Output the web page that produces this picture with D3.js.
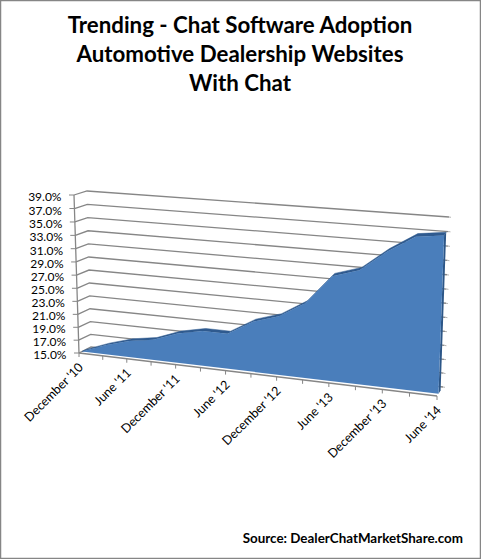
<!DOCTYPE html>
<html>
  <head>
    <meta charset="utf-8" />
    <style>
      html, body { margin: 0; padding: 0; background: #fff; }
      svg { display: block; }
      text { fill: #000; }
      .title { font-family: Lato, sans-serif; font-weight: 700; font-size: 22.3px; }
      .tick { font-family: Lato, sans-serif; font-size: 12px; }
      .xtick { font-family: Lato, sans-serif; font-size: 12.5px; }
      .source { font-family: Lato, sans-serif; font-weight: 700; font-size: 13.4px; }
    </style>
  </head>
  <body>
    <svg></svg>
    <script src="https://d3js.org/d3.v7.min.js"></script>
    <script>
      const width = 481,
        height = 559;

      const titleLines = [
        "Trending - Chat Software Adoption",
        "Automotive Dealership Websites",
        "With Chat",
      ];
      const quarters = [
        "December '10", "March '11", "June '11", "September '11", "December '11",
        "March '12", "June '12", "September '12", "December '12", "March '13",
        "June '13", "September '13", "December '13", "March '14", "June '14",
      ];
      const adoption = [
        15.0, 16.4, 17.5, 18.1, 19.5, 20.3, 20.3, 22.5, 23.7, 26.0, 30.3, 31.5,
        34.5, 36.9, 37.4,
      ];
      const yTicks = [15, 17, 19, 21, 23, 25, 27, 29, 31, 33, 35, 37, 39];
      const source = "Source:  DealerChatMarketShare.com";

      const svg = d3.select("svg").attr("width", width).attr("height", height);

      svg.append("rect")
        .attr("x", 0.5).attr("y", 0.5)
        .attr("width", width - 1).attr("height", height - 1)
        .attr("fill", "#fff")
        .attr("stroke", "#868686")
        .attr("stroke-width", 1.5);

      svg.selectAll("text.title")
        .data(titleLines)
        .enter()
        .append("text")
        .attr("class", "title")
        .attr("x", 240)
        .attr("y", (d, i) => 33 + i * 29)
        .attr("text-anchor", "middle")
        .text((d) => d);

      // maps the unit square onto a quad, so the chart gets the excel 3d perspective
      function quad(bl, br, tr, tl) {
        let dx1 = br[0] - tr[0], dx2 = tl[0] - tr[0], sx = bl[0] - br[0] + tr[0] - tl[0];
        let dy1 = br[1] - tr[1], dy2 = tl[1] - tr[1], sy = bl[1] - br[1] + tr[1] - tl[1];
        let det = dx1 * dy2 - dx2 * dy1;
        let g = (sx * dy2 - dx2 * sy) / det;
        let h = (dx1 * sy - sx * dy1) / det;
        let a = br[0] - bl[0] + g * br[0], b = tl[0] - bl[0] + h * tl[0];
        let d = br[1] - bl[1] + g * br[1], e = tl[1] - bl[1] + h * tl[1];
        return (u, v) => {
          let w = g * u + h * v + 1;
          return [(a * u + b * v + bl[0]) / w, (d * u + e * v + bl[1]) / w];
        };
      }

      const front = quad([79, 353], [437, 396], [443, 226], [74, 195]);
      const back = quad([91, 347], [443, 387], [449, 217], [87, 191]);

      const xScale = d3.scalePoint().domain(quarters).range([0, 1]);
      const yScale = d3.scaleLinear().domain([15, 39]).range([0, 1]);

      // u along time, v up the value axis, depth 0 = front, 1 = back wall
      function project(q, value, depth) {
        let p = front(xScale(q), yScale(value));
        let r = back(xScale(q), yScale(value));
        return [p[0] + (r[0] - p[0]) * depth, p[1] + (r[1] - p[1]) * depth];
      }

      const first = quarters[0],
        last = quarters[quarters.length - 1];
      const line = d3.line();
      const gridColor = "#868686";

      // gridlines: side wall segment then back wall
      svg.append("g")
        .selectAll("path")
        .data(yTicks)
        .enter()
        .append("path")
        .attr("d", (t) =>
          line([project(first, t, 0), project(first, t, 1), project(last, t, 1)])
        )
        .attr("fill", "none")
        .attr("stroke", gridColor)
        .attr("stroke-width", 1.3);

      // small marks on the right edge of the back wall
      svg.append("g")
        .selectAll("line")
        .data(yTicks)
        .enter()
        .append("line")
        .attr("x1", (t) => project(last, t, 1)[0])
        .attr("y1", (t) => project(last, t, 1)[1])
        .attr("x2", (t) => project(last, t, 1)[0] + 2)
        .attr("y2", (t) => project(last, t, 1)[1] + 0.3)
        .attr("stroke", "#b5b5b5");

      // y axis
      svg.append("path")
        .attr("d", line([project(first, 15, 0), project(first, 39, 0)]))
        .attr("stroke", gridColor)
        .attr("stroke-width", 1.3)
        .attr("fill", "none");
      svg.append("g")
        .selectAll("line")
        .data(yTicks)
        .enter()
        .append("line")
        .attr("x1", (t) => project(first, t, 0)[0] - 5)
        .attr("y1", (t) => project(first, t, 0)[1])
        .attr("x2", (t) => project(first, t, 0)[0])
        .attr("y2", (t) => project(first, t, 0)[1])
        .attr("stroke", gridColor);
      svg.append("g")
        .selectAll("text")
        .data(yTicks)
        .enter()
        .append("text")
        .attr("class", "tick")
        .attr("x", (t) => project(first, t, 0)[0] - 12.5)
        .attr("y", (t) => project(first, t, 0)[1] + 6)
        .attr("text-anchor", "end")
        .text((t) => t.toFixed(1) + "%");

      // x axis
      svg.append("path")
        .attr("d", line([project(first, 15, 0), project(last, 15, 0)]))
        .attr("stroke", gridColor)
        .attr("stroke-width", 1.4)
        .attr("fill", "none");
      svg.append("g")
        .selectAll("line")
        .data(quarters)
        .enter()
        .append("line")
        .attr("x1", (q) => project(q, 15, 0)[0])
        .attr("y1", (q) => project(q, 15, 0)[1])
        .attr("x2", (q) => project(q, 15, 0)[0])
        .attr("y2", (q) => project(q, 15, 0)[1] + 4)
        .attr("stroke", gridColor);
      svg.append("g")
        .selectAll("text")
        .data(quarters.filter((q, i) => i % 2 == 0))
        .enter()
        .append("text")
        .attr("class", "xtick")
        .attr("text-anchor", "end")
        .attr("transform", (q) => {
          let p = project(q, 15, 0);
          return "translate(" + (p[0] + 5) + "," + (p[1] + 15) + ") rotate(-45)";
        })
        .text((q) => q);

      // area: top and side faces behind, front face over them
      const dFront = 0.25,
        dBack = 0.6;
      const frontEdge = quarters.map((q, i) => project(q, adoption[i], dFront));
      const backEdge = quarters.map((q, i) => project(q, adoption[i], dBack));

      svg.append("path")
        .attr("d", line(frontEdge.concat(backEdge.slice().reverse())) + "Z")
        .attr("fill", "#2f5a8f")
        .attr("stroke", "#2f5a8f")
        .attr("stroke-width", 0.5);

      svg.append("path")
        .attr(
          "d",
          line([
            project(last, 15, dFront),
            project(last, adoption[adoption.length - 1], dFront),
            project(last, adoption[adoption.length - 1], dBack),
            project(last, 15, dBack),
          ]) + "Z"
        )
        .attr("fill", "#2c5687");

      svg.append("path")
        .attr(
          "d",
          line(
            [project(first, 15, dFront)]
              .concat(frontEdge)
              .concat([project(last, 15, dFront)])
          ) + "Z"
        )
        .attr("fill", "#4a7ebb");

      svg.append("text")
        .attr("class", "source")
        .attr("x", 463)
        .attr("y", 543)
        .attr("text-anchor", "end")
        .text(source);
    </script>
  </body>
</html>
